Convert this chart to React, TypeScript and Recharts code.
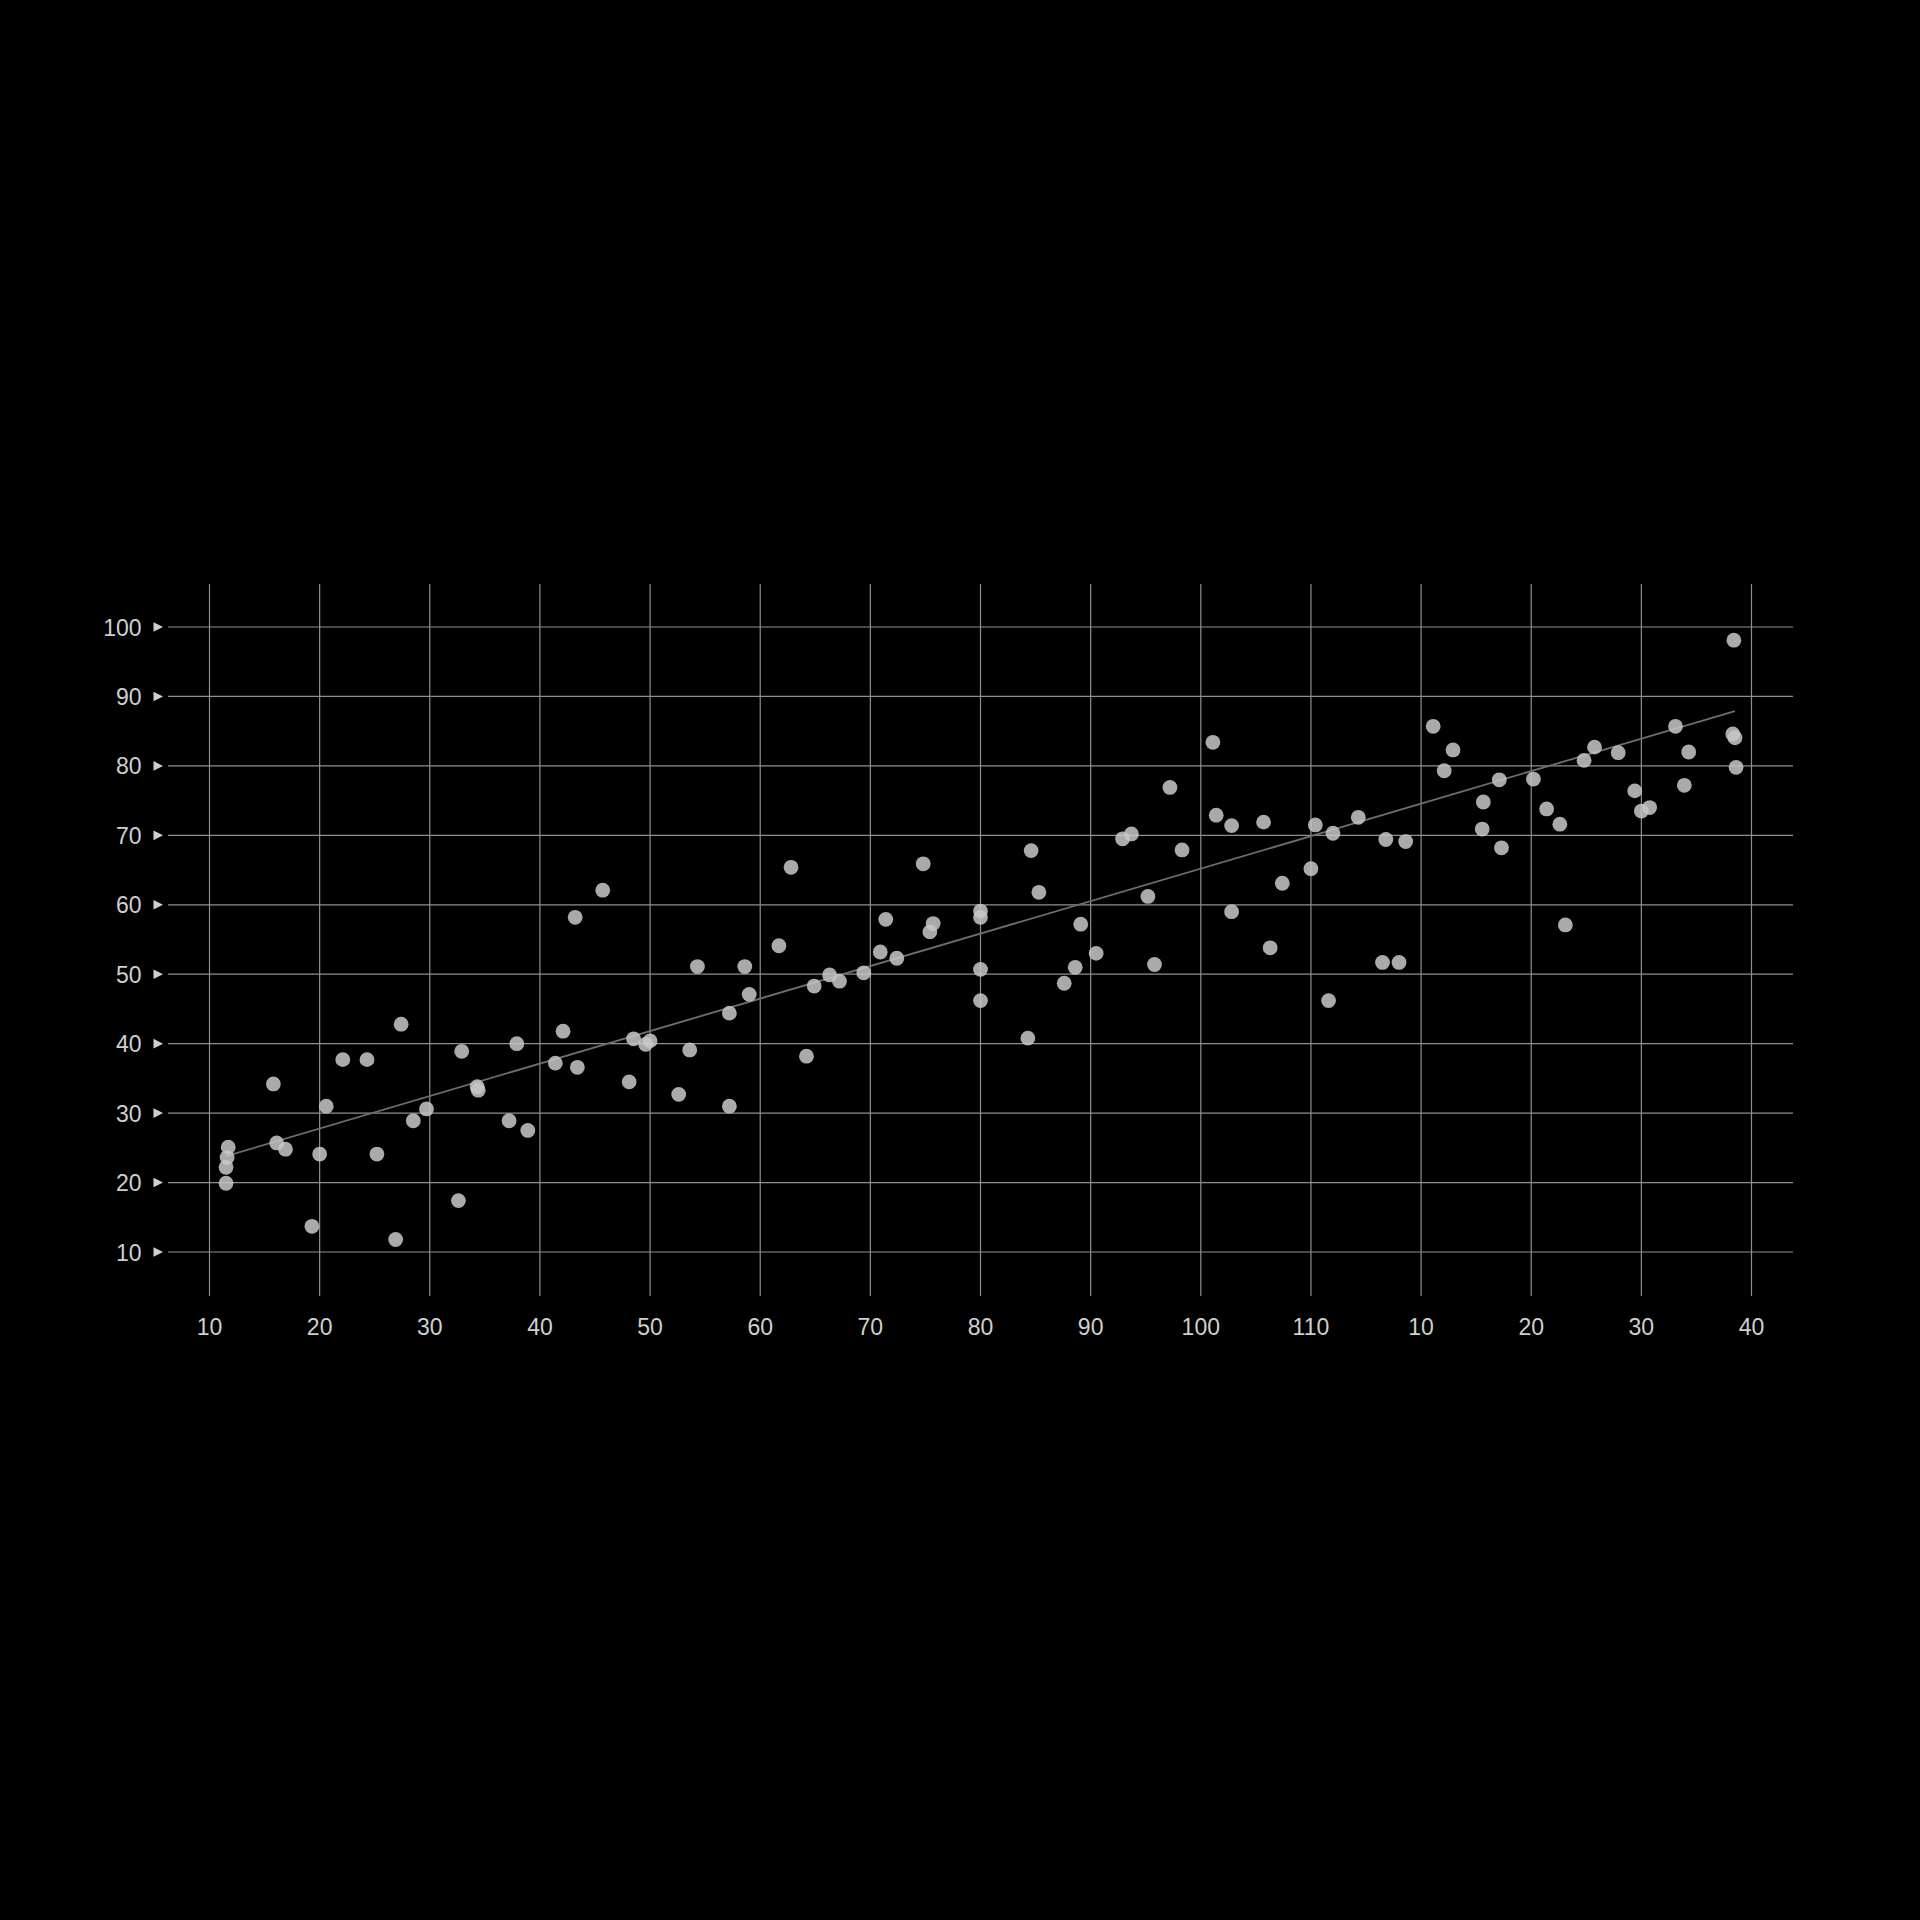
import {
  ReferenceLine,
  Scatter,
  ScatterChart,
  XAxis,
  YAxis,
} from 'recharts';

const xValues = [
  11.7, 11.6, 11.5, 11.5, 15.8, 16.1, 16.9, 19.3, 20.0, 20.6,
  22.1, 24.3, 25.2, 26.9, 27.4, 28.5, 29.7, 32.6, 32.9, 34.3,
  34.4, 37.2, 37.9, 38.9, 41.4, 42.1, 43.2, 43.4, 45.7, 48.1,
  48.5, 49.6, 50.0, 52.6, 53.6, 54.3, 57.2, 57.2, 58.6, 59.0,
  61.7, 62.8, 64.2, 64.9, 66.3, 67.2, 69.4, 70.9, 71.4, 72.4,
  74.8, 75.4, 75.7, 80.0, 80.0, 80.0, 80.0, 84.3, 84.6, 85.3,
  87.6, 88.6, 89.1, 90.5, 92.9, 93.7, 95.2, 95.8, 97.2, 98.3,
  101.1, 101.4, 102.8, 102.8, 105.7, 106.3, 107.4, 110.0, 110.4, 111.6,
  112.0, 114.3, 116.5, 116.8, 118.0, 118.6, 121.1, 122.1, 122.9, 125.55,
  125.65, 127.1, 127.3, 130.2, 131.4, 132.6, 133.1, 134.8, 135.75, 137.9,
  139.4, 140.0, 140.75, 143.1, 143.9, 144.3, 148.4, 148.3, 148.5, 148.6,
];

const yValues = [
  25.1, 23.6, 22.2, 19.9, 34.2, 25.7, 24.8, 13.7, 24.1, 31.0,
  37.7, 37.7, 24.1, 11.8, 42.8, 28.9, 30.6, 17.4, 38.9, 33.8,
  33.3, 28.9, 40.0, 27.5, 37.2, 41.8, 58.2, 36.6, 62.1, 34.5,
  40.7, 39.9, 40.4, 32.7, 39.1, 51.1, 31.0, 44.4, 51.1, 47.1,
  54.1, 65.4, 38.2, 48.3, 49.9, 49.0, 50.2, 53.2, 57.9, 52.3,
  65.9, 56.1, 57.3, 59.1, 58.2, 50.7, 46.2, 40.8, 67.8, 61.8,
  48.7, 51.0, 57.2, 53.0, 69.5, 70.2, 61.2, 51.4, 76.9, 67.9,
  83.4, 72.9, 59.0, 71.4, 71.9, 53.8, 63.1, 65.2, 71.5, 46.2,
  70.3, 72.6, 51.7, 69.4, 51.7, 69.1, 85.7, 79.3, 82.3, 70.9,
  74.8, 78.0, 68.2, 78.1, 73.8, 71.6, 57.1, 80.8, 82.7, 81.9,
  76.4, 73.5, 74.0, 85.7, 77.2, 82.0, 98.1, 84.6, 84.05, 79.8,
];

// fitted trend line end points
const trendX = [11.5, 148.5];
const trendY = [23.8, 87.9];

const xTicks = [10, 20, 30, 40, 50, 60, 70, 80, 90, 100, 110, 120, 130, 140, 150];
const xTickLabels = ['10', '20', '30', '40', '50', '60', '70', '80', '90', '100', '110', '10', '20', '30', '40'];
const yTicks = [10, 20, 30, 40, 50, 60, 70, 80, 90, 100];

const points = xValues.map((x, i) => ({ x, y: yValues[i] }));
const trend = trendX.map((x, i) => ({ x, y: trendY[i] }));

const FONT = '"Liberation Sans", Arial, Helvetica, sans-serif';
const TEXT = '#cfcfcf';
const GRID = '#8f8f8f';

const XTick = ({ x, y, payload }: any) => {
  const idx = xTicks.indexOf(payload.value);
  return (
    <text
      x={x}
      y={y + 38.5}
      textAnchor="middle"
      fill={TEXT}
      fontSize={23}
      fontFamily={FONT}
    >
      {idx >= 0 ? xTickLabels[idx] : payload.value}
    </text>
  );
};

const YTick = ({ x, y, payload }: any) => (
  <g>
    <polygon
      points={`${x - 14.5},${y - 4.8} ${x - 14.5},${y + 4.8} ${x - 5},${y}`}
      fill={TEXT}
    />
    <text
      x={x - 26.5}
      y={y + 8.6}
      textAnchor="end"
      fill={TEXT}
      fontSize={23}
      fontFamily={FONT}
    >
      {payload.value}
    </text>
  </g>
);

const Dot = ({ cx, cy }: any) => (
  <circle cx={cx} cy={cy} r={7.4} fill="#c8c8c8" fillOpacity={0.85} />
);

const NoDot = () => <g />;

export default function App() {
  return (
    <div
      style={{
        position: 'absolute',
        left: 0,
        top: 0,
        width: 1920,
        height: 1920,
        background: '#000',
      }}
    >
      <ScatterChart
        width={1920}
        height={1920}
        margin={{ top: 584, right: 127, bottom: 564, left: 88 }}
      >
        <XAxis
          type="number"
          dataKey="x"
          domain={[10, 150]}
          ticks={xTicks}
          padding={{ left: 41.5, right: 41.5 }}
          height={60}
          axisLine={false}
          tickLine={false}
          tickSize={0}
          tickMargin={0}
          interval={0}
          tick={<XTick />}
        />
        <YAxis
          type="number"
          dataKey="y"
          domain={[10, 100]}
          ticks={yTicks}
          padding={{ top: 43, bottom: 44 }}
          width={80}
          axisLine={false}
          tickLine={false}
          tickSize={0}
          tickMargin={0}
          interval={0}
          tick={<YTick />}
        />
        {/* grid lines only at the tick values */}
        {xTicks.map((t) => (
          <ReferenceLine key={`gx${t}`} x={t} stroke={GRID} strokeWidth={1.2} />
        ))}
        {yTicks.map((t) => (
          <ReferenceLine key={`gy${t}`} y={t} stroke={GRID} strokeWidth={1.2} />
        ))}
        <Scatter
          data={trend}
          line={{ stroke: '#6e6e6e', strokeWidth: 1.8 }}
          shape={NoDot}
          isAnimationActive={false}
        />
        <Scatter data={points} shape={Dot} isAnimationActive={false} />
      </ScatterChart>
    </div>
  );
}
